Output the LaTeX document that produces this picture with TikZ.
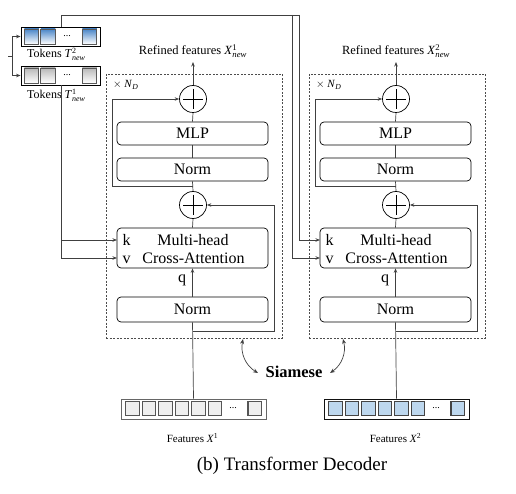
\documentclass[tikz,border=0pt]{standalone}
\usepackage{fontspec}
\usepackage{amsmath}
\setmainfont{Liberation Serif}
\usetikzlibrary{arrows.meta}
\definecolor{featAf}{HTML}{EFEFEF}
\definecolor{featAd}{HTML}{555555}
\definecolor{featAo}{HTML}{666666}
\definecolor{featBf}{HTML}{BDD7EE}
\definecolor{featBd}{HTML}{444444}
\definecolor{featBo}{HTML}{111111}
\definecolor{tokblue}{HTML}{4A86C8}
\definecolor{tokgray}{HTML}{B8B8B8}
\begin{document}
\begin{tikzpicture}[x=1pt,y=-1pt,
  ln/.style={draw=black!75, line width=0.7pt},
  arr/.style={ln, -{Stealth[length=4.5pt,width=3.5pt]}},
  darr/.style={ln, {Stealth[length=5pt,width=4pt]}-{Stealth[length=5pt,width=4pt]}},
  blk/.style={draw, line width=0.7pt, rounded corners=4pt, minimum width=151pt, inner sep=0pt, font=\fontsize{16}{18}\selectfont},
  btxt/.style={anchor=base, inner sep=0pt, font=\fontsize{16}{18}\selectfont},
  dec/.style={draw=black!70, dash pattern=on 2pt off 1.5pt, line width=0.7pt, minimum width=176pt, minimum height=264pt, inner sep=0pt},
  pl/.style={circle, draw, line width=0.7pt, minimum size=27pt, inner sep=0pt},
  lab/.style={anchor=base, inner sep=0pt, font=\fontsize{12.5}{14}\selectfont},
  flab/.style={anchor=base, inner sep=0pt, font=\fontsize{11}{13}\selectfont},
  tokbox/.style={draw, line width=0.8pt, minimum width=79pt, minimum height=19pt, inner sep=0pt},
  tokcell/.style={draw=black!65, line width=0.8pt, minimum width=14.5pt, minimum height=15pt, inner sep=0pt},
  dots/.style={inner sep=0pt, font=\fontsize{10}{10}\selectfont}
]
\useasboundingbox (0,0) rectangle (516,494);

% ---------- token boxes ----------
\node[tokbox] (t2) at (60.5,36.5) {};
\node[tokbox] (t1) at (60.5,75.5) {};
\foreach \cx in {31.5,48,89.5}{
  \node[tokcell, top color=tokblue, bottom color=white] at (\cx,36.5) {};
  \node[tokcell, top color=tokgray, bottom color=white] at (\cx,75.5) {};
}
\node[dots] at (67,36) {...};
\node[dots] at (67,75) {...};
\node[anchor=base west, inner sep=0pt, font=\fontsize{12}{14}\selectfont] (t2l) at (27,58) {Tokens \textit{T}$^{\textrm{2}}_{\textit{new}}$};
\node[anchor=base west, inner sep=0pt, font=\fontsize{12}{14}\selectfont] (t1l) at (27,99) {Tokens \textit{T}$^{\textrm{1}}_{\textit{new}}$};

% bracket
\coordinate (br) at (12,56);
\coordinate (brl) at (8,56);
\draw[ln] (brl) -- (br);
\draw[arr] (br) |- (t2.west);
\draw[arr] (br) |- (t1.west);

% ---------- two decoders ----------
\foreach \s/\dx/\cf/\cd/\co in {1/0/featAf/featAd/featAo, 2/203/featBf/featBd/featBo}{
\begin{scope}[xshift=\dx pt]
  \node[dec] (dec\s) at (194,206) {};
  \node[anchor=base west, inner sep=0pt, font=\fontsize{11}{13}\selectfont] (nd\s) at (113,88) {$\times$ \textit{N}$_{\textit{D}}$};
  \node[pl] (pa\s) at (193,99) {};
  \draw[line width=0.7pt] (pa\s.center) +(-10,0) -- +(10,0) (pa\s.center) +(0,-10) -- +(0,10);
  \node[blk, minimum height=23pt] (mlp\s) at (192.5,133.5) {MLP};
  \node[blk, minimum height=23pt] (nt\s) at (192.5,169.5) {Norm};
  \node[pl] (pb\s) at (193,205) {};
  \draw[line width=0.7pt] (pb\s.center) +(-10,0) -- +(10,0) (pb\s.center) +(0,-10) -- +(0,10);
  \node[blk, minimum height=40pt] (att\s) at (192.5,248) {};
  \node[btxt] (mh\s) at (193,245) {Multi-head};
  \node[btxt] (ca\s) at (193.5,263) {Cross-Attention};
  \node[btxt] (k\s) at (126.5,245) {k};
  \node[btxt] (v\s) at (126.5,263) {v};
  \node[btxt] (q\s) at (182,282) {q};
  \node[blk, minimum height=25pt] (nb\s) at (192.5,309.5) {Norm};
  \node[lab] (ref\s) at (193,55) {Refined features \textit{X}$^{\textrm{\s}}_{\textit{new}}$};
  \coordinate (reft\s) at (193,62);
  % features
  \node[draw=\co, line width=0.8pt, minimum width=145pt, minimum height=20pt, inner sep=0pt] (f\s) at (193.5,409) {};
  \foreach \i in {0,...,5}{
    \node[draw=\cd, fill=\cf, line width=1.1pt, minimum width=13.5pt, minimum height=14pt, inner sep=0pt] at (132.5+16.5*\i,408.5) {};
  }
  \node[draw=\cd, fill=\cf, line width=1.1pt, minimum width=13.5pt, minimum height=14pt, inner sep=0pt] at (254.7,408.5) {};
  \node[dots] at (233,408) {...};
  \node[flab] (fl\s) at (192.5,442) {Features \textit{X}$^{\textrm{\s}}$};
  % connectors
  \draw[arr] (pa\s.north) -- (reft\s);
  \draw[ln] (mlp\s.north) -- (pa\s.south);
  \draw[ln] (nt\s.north) -- (mlp\s.south);
  \draw[ln] (pb\s.north) -- (nt\s.south);
  \draw[ln] (att\s.north) -- (pb\s.south);
  \draw[arr] (nb\s.north) -- (att\s.south);
  \draw[ln] (f\s.north) -- (nb\s.south);
  \coordinate (ra\s) at (193,186);
  \coordinate (rac\s) at (112,186);
  \draw[arr] (ra\s) -- (rac\s) |- (pa\s.west);
  \coordinate (rb\s) at (193,331);
  \coordinate (rbc\s) at (274,331);
  \draw[arr] (rb\s) -- (rbc\s) |- (pb\s.east);
\end{scope}
}

% ---------- token feeds ----------
\coordinate (kin1) at (117,240);
\coordinate (vin1) at (117,258);
\coordinate (kin2) at (320,240);
\coordinate (vin2) at (320,258);
\coordinate (t1d) at (61,258);
\draw[ln] (t1.south -| t1d) -- (t1d);
\draw[arr] (61,240) -- (kin1);
\draw[arr] (t1d) -- (vin1);
\coordinate (top) at (61,15);
\coordinate (topr) at (299,15);
\coordinate (topv) at (292,15);
\draw[ln] (t2.north -| top) -- (top) -- (topr);
\draw[arr] (topr) |- (kin2);
\draw[arr] (topv) |- (vin2);

% ---------- Siamese ----------
\node[anchor=base, inner sep=0pt, font=\bfseries\fontsize{16.5}{18}\selectfont] (sia) at (294,377) {Siamese};
\coordinate (sl1) at (243,339);
\coordinate (sl2) at (258,373);
\coordinate (sr1) at (343,339);
\coordinate (sr2) at (330,373);
\draw[darr] (sl1) to[bend right=35] (sl2);
\draw[darr] (sr1) to[bend left=35] (sr2);

% caption
\node[anchor=base, inner sep=0pt, font=\fontsize{19}{21}\selectfont] (cap) at (292,470) {(b) Transformer Decoder};
\end{tikzpicture}
\end{document}
